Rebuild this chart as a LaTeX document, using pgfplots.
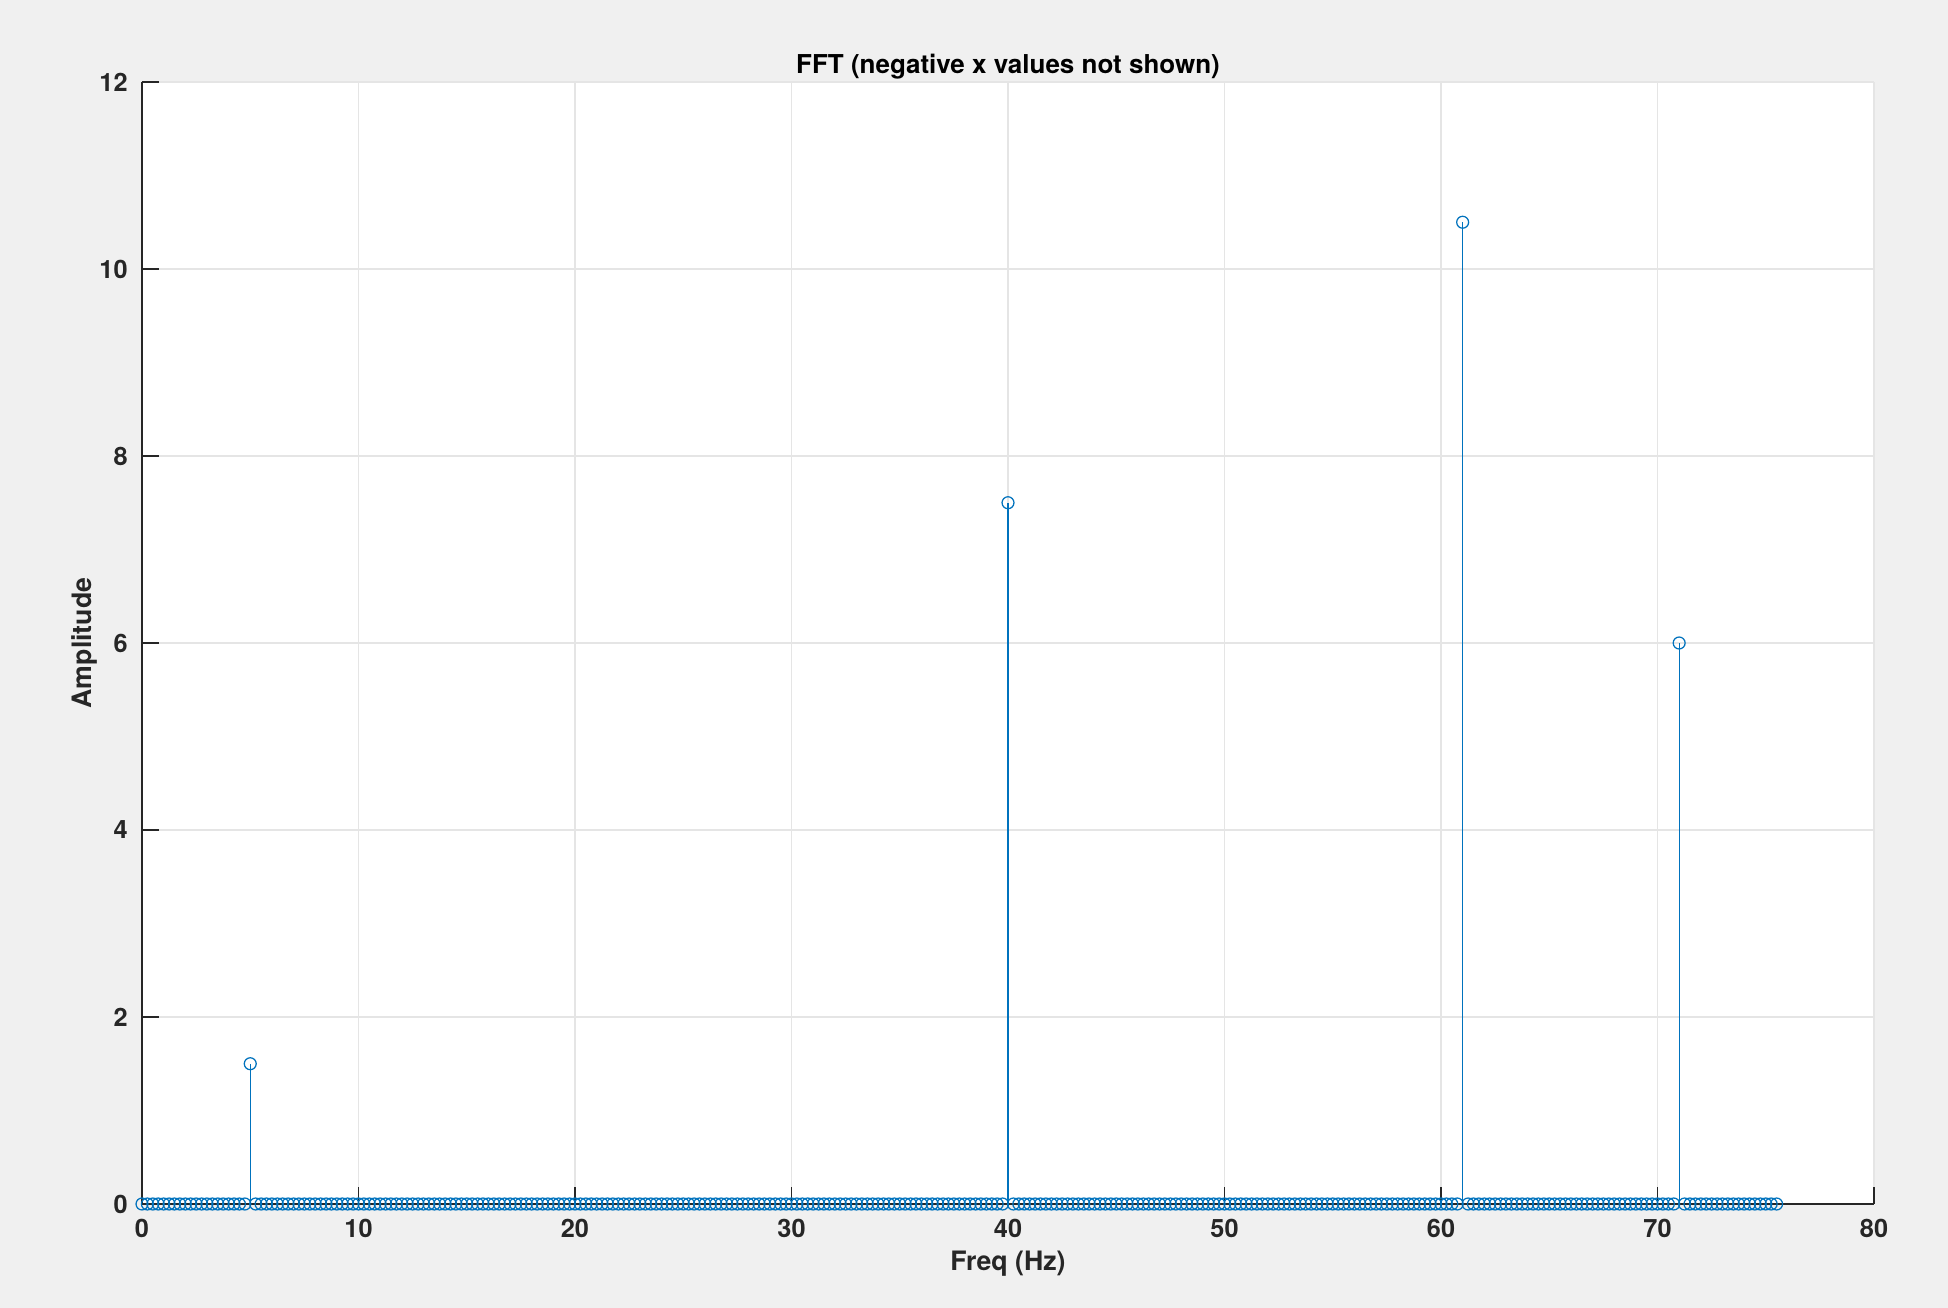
\documentclass[border=0pt]{standalone}
\usepackage{pgfplots}
\pgfplotsset{compat=1.18}
\usepackage{fontspec}
\setmainfont{TeX Gyre Heros}
\definecolor{mblue}{RGB}{0,114,189}
\definecolor{bg}{RGB}{240,240,240}
\definecolor{axc}{RGB}{38,38,38}
\begin{document}
\begin{tikzpicture}
\fill[bg] (-1.42cm,-1.04cm) rectangle (18.06cm,12.04cm);
\begin{axis}[
  at={(0,0)}, anchor=south west,
  scale only axis, width=17.32cm, height=11.22cm,
  xmin=0, xmax=80, ymin=0, ymax=12,
  xtick={0,10,...,80}, ytick={0,2,...,12},
  axis background/.style={fill=white},
  axis lines*=left,
  axis line style={axc, line width=0.5pt},
  tick align=inside,
  major tick length=1.7mm,
  tick style={axc, line width=0.5pt},
  grid=major,
  major grid style={black!10, line width=0.35pt},
  /pgf/number format/assume math mode=true,
  ticklabel style={font=\bfseries\fontsize{7.2}{8}\selectfont, text=axc},
  xticklabel style={yshift=-0.3mm},
  yticklabel style={xshift=-0.2mm},
  every axis title shift=0pt,
  title={FFT (negative x values not shown)},
  title style={font=\bfseries\fontsize{7.4}{8}\selectfont, at={(axis description cs:0.5,1.0140)}, anchor=center, yshift=0pt},
  xlabel={Freq (Hz)},
  xlabel style={font=\bfseries\fontsize{7.6}{8}\selectfont, text=axc, at={(axis description cs:0.5,-0.0535)}, anchor=center},
  ylabel={Amplitude},
  ylabel style={font=\bfseries\fontsize{7.6}{8}\selectfont, text=axc, at={(axis description cs:-0.0335,0.5)}, anchor=center},
  clip=false,
]
\addplot[ycomb, mblue, line width=0.37pt, mark=o, mark size=1.7pt, mark options={line width=0.35pt}] coordinates {
(0,0) (0.25,0) (0.5,0) (0.75,0) (1,0) (1.25,0) (1.5,0) (1.75,0)
(2,0) (2.25,0) (2.5,0) (2.75,0) (3,0) (3.25,0) (3.5,0) (3.75,0)
(4,0) (4.25,0) (4.5,0) (4.75,0) (5,1.5) (5.25,0) (5.5,0) (5.75,0)
(6,0) (6.25,0) (6.5,0) (6.75,0) (7,0) (7.25,0) (7.5,0) (7.75,0)
(8,0) (8.25,0) (8.5,0) (8.75,0) (9,0) (9.25,0) (9.5,0) (9.75,0)
(10,0) (10.25,0) (10.5,0) (10.75,0) (11,0) (11.25,0) (11.5,0) (11.75,0)
(12,0) (12.25,0) (12.5,0) (12.75,0) (13,0) (13.25,0) (13.5,0) (13.75,0)
(14,0) (14.25,0) (14.5,0) (14.75,0) (15,0) (15.25,0) (15.5,0) (15.75,0)
(16,0) (16.25,0) (16.5,0) (16.75,0) (17,0) (17.25,0) (17.5,0) (17.75,0)
(18,0) (18.25,0) (18.5,0) (18.75,0) (19,0) (19.25,0) (19.5,0) (19.75,0)
(20,0) (20.25,0) (20.5,0) (20.75,0) (21,0) (21.25,0) (21.5,0) (21.75,0)
(22,0) (22.25,0) (22.5,0) (22.75,0) (23,0) (23.25,0) (23.5,0) (23.75,0)
(24,0) (24.25,0) (24.5,0) (24.75,0) (25,0) (25.25,0) (25.5,0) (25.75,0)
(26,0) (26.25,0) (26.5,0) (26.75,0) (27,0) (27.25,0) (27.5,0) (27.75,0)
(28,0) (28.25,0) (28.5,0) (28.75,0) (29,0) (29.25,0) (29.5,0) (29.75,0)
(30,0) (30.25,0) (30.5,0) (30.75,0) (31,0) (31.25,0) (31.5,0) (31.75,0)
(32,0) (32.25,0) (32.5,0) (32.75,0) (33,0) (33.25,0) (33.5,0) (33.75,0)
(34,0) (34.25,0) (34.5,0) (34.75,0) (35,0) (35.25,0) (35.5,0) (35.75,0)
(36,0) (36.25,0) (36.5,0) (36.75,0) (37,0) (37.25,0) (37.5,0) (37.75,0)
(38,0) (38.25,0) (38.5,0) (38.75,0) (39,0) (39.25,0) (39.5,0) (39.75,0)
(40,7.5) (40.25,0) (40.5,0) (40.75,0) (41,0) (41.25,0) (41.5,0) (41.75,0)
(42,0) (42.25,0) (42.5,0) (42.75,0) (43,0) (43.25,0) (43.5,0) (43.75,0)
(44,0) (44.25,0) (44.5,0) (44.75,0) (45,0) (45.25,0) (45.5,0) (45.75,0)
(46,0) (46.25,0) (46.5,0) (46.75,0) (47,0) (47.25,0) (47.5,0) (47.75,0)
(48,0) (48.25,0) (48.5,0) (48.75,0) (49,0) (49.25,0) (49.5,0) (49.75,0)
(50,0) (50.25,0) (50.5,0) (50.75,0) (51,0) (51.25,0) (51.5,0) (51.75,0)
(52,0) (52.25,0) (52.5,0) (52.75,0) (53,0) (53.25,0) (53.5,0) (53.75,0)
(54,0) (54.25,0) (54.5,0) (54.75,0) (55,0) (55.25,0) (55.5,0) (55.75,0)
(56,0) (56.25,0) (56.5,0) (56.75,0) (57,0) (57.25,0) (57.5,0) (57.75,0)
(58,0) (58.25,0) (58.5,0) (58.75,0) (59,0) (59.25,0) (59.5,0) (59.75,0)
(60,0) (60.25,0) (60.5,0) (60.75,0) (61,10.5) (61.25,0) (61.5,0) (61.75,0)
(62,0) (62.25,0) (62.5,0) (62.75,0) (63,0) (63.25,0) (63.5,0) (63.75,0)
(64,0) (64.25,0) (64.5,0) (64.75,0) (65,0) (65.25,0) (65.5,0) (65.75,0)
(66,0) (66.25,0) (66.5,0) (66.75,0) (67,0) (67.25,0) (67.5,0) (67.75,0)
(68,0) (68.25,0) (68.5,0) (68.75,0) (69,0) (69.25,0) (69.5,0) (69.75,0)
(70,0) (70.25,0) (70.5,0) (70.75,0) (71,6) (71.25,0) (71.5,0) (71.75,0)
(72,0) (72.25,0) (72.5,0) (72.75,0) (73,0) (73.25,0) (73.5,0) (73.75,0)
(74,0) (74.25,0) (74.5,0) (74.75,0) (75,0) (75.25,0) (75.5,0)
};
\end{axis}
\end{tikzpicture}
\end{document}
